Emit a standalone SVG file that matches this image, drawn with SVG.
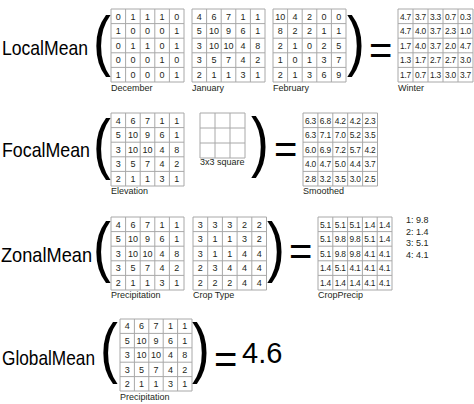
<svg xmlns="http://www.w3.org/2000/svg" width="474" height="404" viewBox="0 0 474 404">
<style>
.grid{fill:#fff;stroke:#a8a8a8;stroke-width:1}
.c{font-family:"Liberation Sans",Arial,sans-serif;font-size:9px;fill:#231f20;text-anchor:middle}
.d{font-family:"Liberation Sans",Arial,sans-serif;font-size:8.4px;fill:#231f20;text-anchor:middle;letter-spacing:-0.2px}
.lbl{font-family:"Liberation Sans",Arial,sans-serif;font-size:9px;fill:#231f20}
.title{font-family:"Liberation Sans",Arial,sans-serif;font-size:21px;fill:#000}
.par{font-family:"Liberation Sans",Arial,sans-serif;font-size:67px;fill:#000}
.eq{font-family:"Liberation Sans",Arial,sans-serif;font-size:40px;fill:#000}
</style>
<rect width="474" height="404" fill="#fff"/>

<!-- LocalMean row -->
<g id="localmean-title"><text class="title" x="2" y="55" textLength="86" lengthAdjust="spacingAndGlyphs">LocalMean</text></g>
<g id="december">
<path class="grid" d="M111 9h73v73h-73z M125.6 9v73 M140.2 9v73 M154.8 9v73 M169.4 9v73 M111 23.6h73 M111 38.2h73 M111 52.8h73 M111 67.4h73"/>
<text class="c" y="19.5"><tspan x="118.3">0</tspan><tspan x="132.9">1</tspan><tspan x="147.5">1</tspan><tspan x="162.1">1</tspan><tspan x="176.7">0</tspan></text>
<text class="c" y="34.1"><tspan x="118.3">1</tspan><tspan x="132.9">0</tspan><tspan x="147.5">0</tspan><tspan x="162.1">0</tspan><tspan x="176.7">1</tspan></text>
<text class="c" y="48.7"><tspan x="118.3">0</tspan><tspan x="132.9">1</tspan><tspan x="147.5">1</tspan><tspan x="162.1">0</tspan><tspan x="176.7">1</tspan></text>
<text class="c" y="63.3"><tspan x="118.3">0</tspan><tspan x="132.9">0</tspan><tspan x="147.5">0</tspan><tspan x="162.1">1</tspan><tspan x="176.7">0</tspan></text>
<text class="c" y="77.9"><tspan x="118.3">1</tspan><tspan x="132.9">0</tspan><tspan x="147.5">0</tspan><tspan x="162.1">0</tspan><tspan x="176.7">1</tspan></text>
<text class="lbl" x="111" y="90.5">December</text>
</g>
<g id="january">
<path class="grid" d="M192 9h73v73h-73z M206.6 9v73 M221.2 9v73 M235.8 9v73 M250.4 9v73 M192 23.6h73 M192 38.2h73 M192 52.8h73 M192 67.4h73"/>
<text class="c" y="19.5"><tspan x="199.3">4</tspan><tspan x="213.9">6</tspan><tspan x="228.5">7</tspan><tspan x="243.1">1</tspan><tspan x="257.7">1</tspan></text>
<text class="c" y="34.1"><tspan x="199.3">5</tspan><tspan x="213.9">10</tspan><tspan x="228.5">9</tspan><tspan x="243.1">6</tspan><tspan x="257.7">1</tspan></text>
<text class="c" y="48.7"><tspan x="199.3">3</tspan><tspan x="213.9">10</tspan><tspan x="228.5">10</tspan><tspan x="243.1">4</tspan><tspan x="257.7">8</tspan></text>
<text class="c" y="63.3"><tspan x="199.3">3</tspan><tspan x="213.9">5</tspan><tspan x="228.5">7</tspan><tspan x="243.1">4</tspan><tspan x="257.7">2</tspan></text>
<text class="c" y="77.9"><tspan x="199.3">2</tspan><tspan x="213.9">1</tspan><tspan x="228.5">1</tspan><tspan x="243.1">3</tspan><tspan x="257.7">1</tspan></text>
<text class="lbl" x="192" y="90.5">January</text>
</g>
<g id="february">
<path class="grid" d="M273 9h73v73h-73z M287.6 9v73 M302.2 9v73 M316.8 9v73 M331.4 9v73 M273 23.6h73 M273 38.2h73 M273 52.8h73 M273 67.4h73"/>
<text class="c" y="19.5"><tspan x="280.3">10</tspan><tspan x="294.9">4</tspan><tspan x="309.5">2</tspan><tspan x="324.1">0</tspan><tspan x="338.7">0</tspan></text>
<text class="c" y="34.1"><tspan x="280.3">8</tspan><tspan x="294.9">2</tspan><tspan x="309.5">2</tspan><tspan x="324.1">1</tspan><tspan x="338.7">1</tspan></text>
<text class="c" y="48.7"><tspan x="280.3">2</tspan><tspan x="294.9">1</tspan><tspan x="309.5">0</tspan><tspan x="324.1">2</tspan><tspan x="338.7">5</tspan></text>
<text class="c" y="63.3"><tspan x="280.3">1</tspan><tspan x="294.9">0</tspan><tspan x="309.5">1</tspan><tspan x="324.1">3</tspan><tspan x="338.7">7</tspan></text>
<text class="c" y="77.9"><tspan x="280.3">2</tspan><tspan x="294.9">1</tspan><tspan x="309.5">3</tspan><tspan x="324.1">6</tspan><tspan x="338.7">9</tspan></text>
<text class="lbl" x="273" y="90.5">February</text>
</g>
<g id="local-operators">
<text class="par" transform="translate(93 62.5) scale(0.8 1)">(</text>
<text class="par" transform="translate(347 62.5) scale(0.8 1)">)</text>
<text class="eq" x="369" y="64">=</text>
</g>
<g id="winter">
<path class="grid" d="M398 9h75v73h-75z M413 9v73 M428 9v73 M443 9v73 M458 9v73 M398 23.6h75 M398 38.2h75 M398 52.8h75 M398 67.4h75"/>
<text class="d" y="19.5"><tspan x="405.5">4.7</tspan><tspan x="420.5">3.7</tspan><tspan x="435.5">3.3</tspan><tspan x="450.5">0.7</tspan><tspan x="465.5">0.3</tspan></text>
<text class="d" y="34.1"><tspan x="405.5">4.7</tspan><tspan x="420.5">4.0</tspan><tspan x="435.5">3.7</tspan><tspan x="450.5">2.3</tspan><tspan x="465.5">1.0</tspan></text>
<text class="d" y="48.7"><tspan x="405.5">1.7</tspan><tspan x="420.5">4.0</tspan><tspan x="435.5">3.7</tspan><tspan x="450.5">2.0</tspan><tspan x="465.5">4.7</tspan></text>
<text class="d" y="63.3"><tspan x="405.5">1.3</tspan><tspan x="420.5">1.7</tspan><tspan x="435.5">2.7</tspan><tspan x="450.5">2.7</tspan><tspan x="465.5">3.0</tspan></text>
<text class="d" y="77.9"><tspan x="405.5">1.7</tspan><tspan x="420.5">0.7</tspan><tspan x="435.5">1.3</tspan><tspan x="450.5">3.0</tspan><tspan x="465.5">3.7</tspan></text>
<text class="lbl" x="398" y="90.5">Winter</text>
</g>

<!-- FocalMean row -->
<g id="focalmean-title"><text class="title" x="2" y="157" textLength="88" lengthAdjust="spacingAndGlyphs">FocalMean</text></g>
<g id="elevation">
<path class="grid" d="M111 113h73v73h-73z M125.6 113v73 M140.2 113v73 M154.8 113v73 M169.4 113v73 M111 127.6h73 M111 142.2h73 M111 156.8h73 M111 171.4h73"/>
<text class="c" y="123.5"><tspan x="118.3">4</tspan><tspan x="132.9">6</tspan><tspan x="147.5">7</tspan><tspan x="162.1">1</tspan><tspan x="176.7">1</tspan></text>
<text class="c" y="138.1"><tspan x="118.3">5</tspan><tspan x="132.9">10</tspan><tspan x="147.5">9</tspan><tspan x="162.1">6</tspan><tspan x="176.7">1</tspan></text>
<text class="c" y="152.7"><tspan x="118.3">3</tspan><tspan x="132.9">10</tspan><tspan x="147.5">10</tspan><tspan x="162.1">4</tspan><tspan x="176.7">8</tspan></text>
<text class="c" y="167.3"><tspan x="118.3">3</tspan><tspan x="132.9">5</tspan><tspan x="147.5">7</tspan><tspan x="162.1">4</tspan><tspan x="176.7">2</tspan></text>
<text class="c" y="181.9"><tspan x="118.3">2</tspan><tspan x="132.9">1</tspan><tspan x="147.5">1</tspan><tspan x="162.1">3</tspan><tspan x="176.7">1</tspan></text>
<text class="lbl" x="111" y="194">Elevation</text>
</g>
<g id="square-3x3">
<path class="grid" d="M200 113h45v45h-45z M215 113v45 M230 113v45 M200 128h45 M200 143h45"/>
<text class="lbl" x="200" y="165">3x3 square</text>
</g>
<g id="focal-operators">
<text class="par" transform="translate(93 165.5) scale(0.8 1)">(</text>
<text class="par" transform="translate(251 163.5) scale(0.8 1)">)</text>
<text class="eq" x="274" y="163">=</text>
</g>
<g id="smoothed">
<path class="grid" d="M303 113h74.5v73h-74.5z M317.9 113v73 M332.8 113v73 M347.7 113v73 M362.6 113v73 M303 127.6h74.5 M303 142.2h74.5 M303 156.8h74.5 M303 171.4h74.5"/>
<text class="d" y="123.5"><tspan x="310.45">6.3</tspan><tspan x="325.35">6.8</tspan><tspan x="340.25">4.2</tspan><tspan x="355.15">4.2</tspan><tspan x="370.05">2.3</tspan></text>
<text class="d" y="138.1"><tspan x="310.45">6.3</tspan><tspan x="325.35">7.1</tspan><tspan x="340.25">7.0</tspan><tspan x="355.15">5.2</tspan><tspan x="370.05">3.5</tspan></text>
<text class="d" y="152.7"><tspan x="310.45">6.0</tspan><tspan x="325.35">6.9</tspan><tspan x="340.25">7.2</tspan><tspan x="355.15">5.7</tspan><tspan x="370.05">4.2</tspan></text>
<text class="d" y="167.3"><tspan x="310.45">4.0</tspan><tspan x="325.35">4.7</tspan><tspan x="340.25">5.0</tspan><tspan x="355.15">4.4</tspan><tspan x="370.05">3.7</tspan></text>
<text class="d" y="181.9"><tspan x="310.45">2.8</tspan><tspan x="325.35">3.2</tspan><tspan x="340.25">3.5</tspan><tspan x="355.15">3.0</tspan><tspan x="370.05">2.5</tspan></text>
<text class="lbl" x="303" y="194">Smoothed</text>
</g>

<!-- ZonalMean row -->
<g id="zonalmean-title"><text class="title" x="1" y="262" textLength="91" lengthAdjust="spacingAndGlyphs">ZonalMean</text></g>
<g id="precipitation-zonal">
<path class="grid" d="M111 217h73v73h-73z M125.6 217v73 M140.2 217v73 M154.8 217v73 M169.4 217v73 M111 231.6h73 M111 246.2h73 M111 260.8h73 M111 275.4h73"/>
<text class="c" y="227.5"><tspan x="118.3">4</tspan><tspan x="132.9">6</tspan><tspan x="147.5">7</tspan><tspan x="162.1">1</tspan><tspan x="176.7">1</tspan></text>
<text class="c" y="242.1"><tspan x="118.3">5</tspan><tspan x="132.9">10</tspan><tspan x="147.5">9</tspan><tspan x="162.1">6</tspan><tspan x="176.7">1</tspan></text>
<text class="c" y="256.7"><tspan x="118.3">3</tspan><tspan x="132.9">10</tspan><tspan x="147.5">10</tspan><tspan x="162.1">4</tspan><tspan x="176.7">8</tspan></text>
<text class="c" y="271.3"><tspan x="118.3">3</tspan><tspan x="132.9">5</tspan><tspan x="147.5">7</tspan><tspan x="162.1">4</tspan><tspan x="176.7">2</tspan></text>
<text class="c" y="285.9"><tspan x="118.3">2</tspan><tspan x="132.9">1</tspan><tspan x="147.5">1</tspan><tspan x="162.1">3</tspan><tspan x="176.7">1</tspan></text>
<text class="lbl" x="111" y="298">Precipitation</text>
</g>
<g id="crop-type">
<path class="grid" d="M193 217h73.5v73h-73.5z M207.7 217v73 M222.4 217v73 M237.1 217v73 M251.8 217v73 M193 231.6h73.5 M193 246.2h73.5 M193 260.8h73.5 M193 275.4h73.5"/>
<text class="c" y="227.5"><tspan x="200.35">3</tspan><tspan x="215.05">3</tspan><tspan x="229.75">3</tspan><tspan x="244.45">2</tspan><tspan x="259.15">2</tspan></text>
<text class="c" y="242.1"><tspan x="200.35">3</tspan><tspan x="215.05">1</tspan><tspan x="229.75">1</tspan><tspan x="244.45">3</tspan><tspan x="259.15">2</tspan></text>
<text class="c" y="256.7"><tspan x="200.35">3</tspan><tspan x="215.05">1</tspan><tspan x="229.75">1</tspan><tspan x="244.45">4</tspan><tspan x="259.15">4</tspan></text>
<text class="c" y="271.3"><tspan x="200.35">2</tspan><tspan x="215.05">3</tspan><tspan x="229.75">4</tspan><tspan x="244.45">4</tspan><tspan x="259.15">4</tspan></text>
<text class="c" y="285.9"><tspan x="200.35">2</tspan><tspan x="215.05">2</tspan><tspan x="229.75">2</tspan><tspan x="244.45">4</tspan><tspan x="259.15">4</tspan></text>
<text class="lbl" x="193" y="298">Crop Type</text>
</g>
<g id="zonal-operators">
<text class="par" transform="translate(93 268.5) scale(0.8 1)">(</text>
<text class="par" transform="translate(267 268.5) scale(0.8 1)">)</text>
<text class="eq" x="289" y="265">=</text>
</g>
<g id="cropprecip">
<path class="grid" d="M318 217h74v73h-74z M332.8 217v73 M347.6 217v73 M362.4 217v73 M377.2 217v73 M318 231.6h74 M318 246.2h74 M318 260.8h74 M318 275.4h74"/>
<text class="d" y="227.5"><tspan x="325.4">5.1</tspan><tspan x="340.2">5.1</tspan><tspan x="355">5.1</tspan><tspan x="369.8">1.4</tspan><tspan x="384.6">1.4</tspan></text>
<text class="d" y="242.1"><tspan x="325.4">5.1</tspan><tspan x="340.2">9.8</tspan><tspan x="355">9.8</tspan><tspan x="369.8">5.1</tspan><tspan x="384.6">1.4</tspan></text>
<text class="d" y="256.7"><tspan x="325.4">5.1</tspan><tspan x="340.2">9.8</tspan><tspan x="355">9.8</tspan><tspan x="369.8">4.1</tspan><tspan x="384.6">4.1</tspan></text>
<text class="d" y="271.3"><tspan x="325.4">1.4</tspan><tspan x="340.2">5.1</tspan><tspan x="355">4.1</tspan><tspan x="369.8">4.1</tspan><tspan x="384.6">4.1</tspan></text>
<text class="d" y="285.9"><tspan x="325.4">1.4</tspan><tspan x="340.2">1.4</tspan><tspan x="355">1.4</tspan><tspan x="369.8">4.1</tspan><tspan x="384.6">4.1</tspan></text>
<text class="lbl" x="318" y="298">CropPrecip</text>
</g>
<g id="zone-means">
<text class="lbl" x="406" y="223">1: 9.8</text>
<text class="lbl" x="406" y="234.5">2: 1.4</text>
<text class="lbl" x="406" y="246">3: 5.1</text>
<text class="lbl" x="406" y="257.5">4: 4.1</text>
</g>

<!-- GlobalMean row -->
<g id="globalmean-title"><text class="title" x="2" y="365" textLength="93" lengthAdjust="spacingAndGlyphs">GlobalMean</text></g>
<g id="precipitation-global">
<path class="grid" d="M120 319h72v72h-72z M134.4 319v72 M148.8 319v72 M163.2 319v72 M177.6 319v72 M120 333.4h72 M120 347.8h72 M120 362.2h72 M120 376.6h72"/>
<text class="c" y="329.4"><tspan x="127.2">4</tspan><tspan x="141.6">6</tspan><tspan x="156">7</tspan><tspan x="170.4">1</tspan><tspan x="184.8">1</tspan></text>
<text class="c" y="343.8"><tspan x="127.2">5</tspan><tspan x="141.6">10</tspan><tspan x="156">9</tspan><tspan x="170.4">6</tspan><tspan x="184.8">1</tspan></text>
<text class="c" y="358.2"><tspan x="127.2">3</tspan><tspan x="141.6">10</tspan><tspan x="156">10</tspan><tspan x="170.4">4</tspan><tspan x="184.8">8</tspan></text>
<text class="c" y="372.6"><tspan x="127.2">3</tspan><tspan x="141.6">5</tspan><tspan x="156">7</tspan><tspan x="170.4">4</tspan><tspan x="184.8">2</tspan></text>
<text class="c" y="387"><tspan x="127.2">2</tspan><tspan x="141.6">1</tspan><tspan x="156">1</tspan><tspan x="170.4">3</tspan><tspan x="184.8">1</tspan></text>
<text class="lbl" x="120" y="400">Precipitation</text>
</g>
<g id="global-operators">
<text class="par" transform="translate(100 370) scale(0.8 1)">(</text>
<text class="par" transform="translate(192 370) scale(0.8 1)">)</text>
<text class="eq" x="214" y="373">=</text>
<text class="title" x="242" y="363" style="font-size:29px">4.6</text>
</g>
</svg>
